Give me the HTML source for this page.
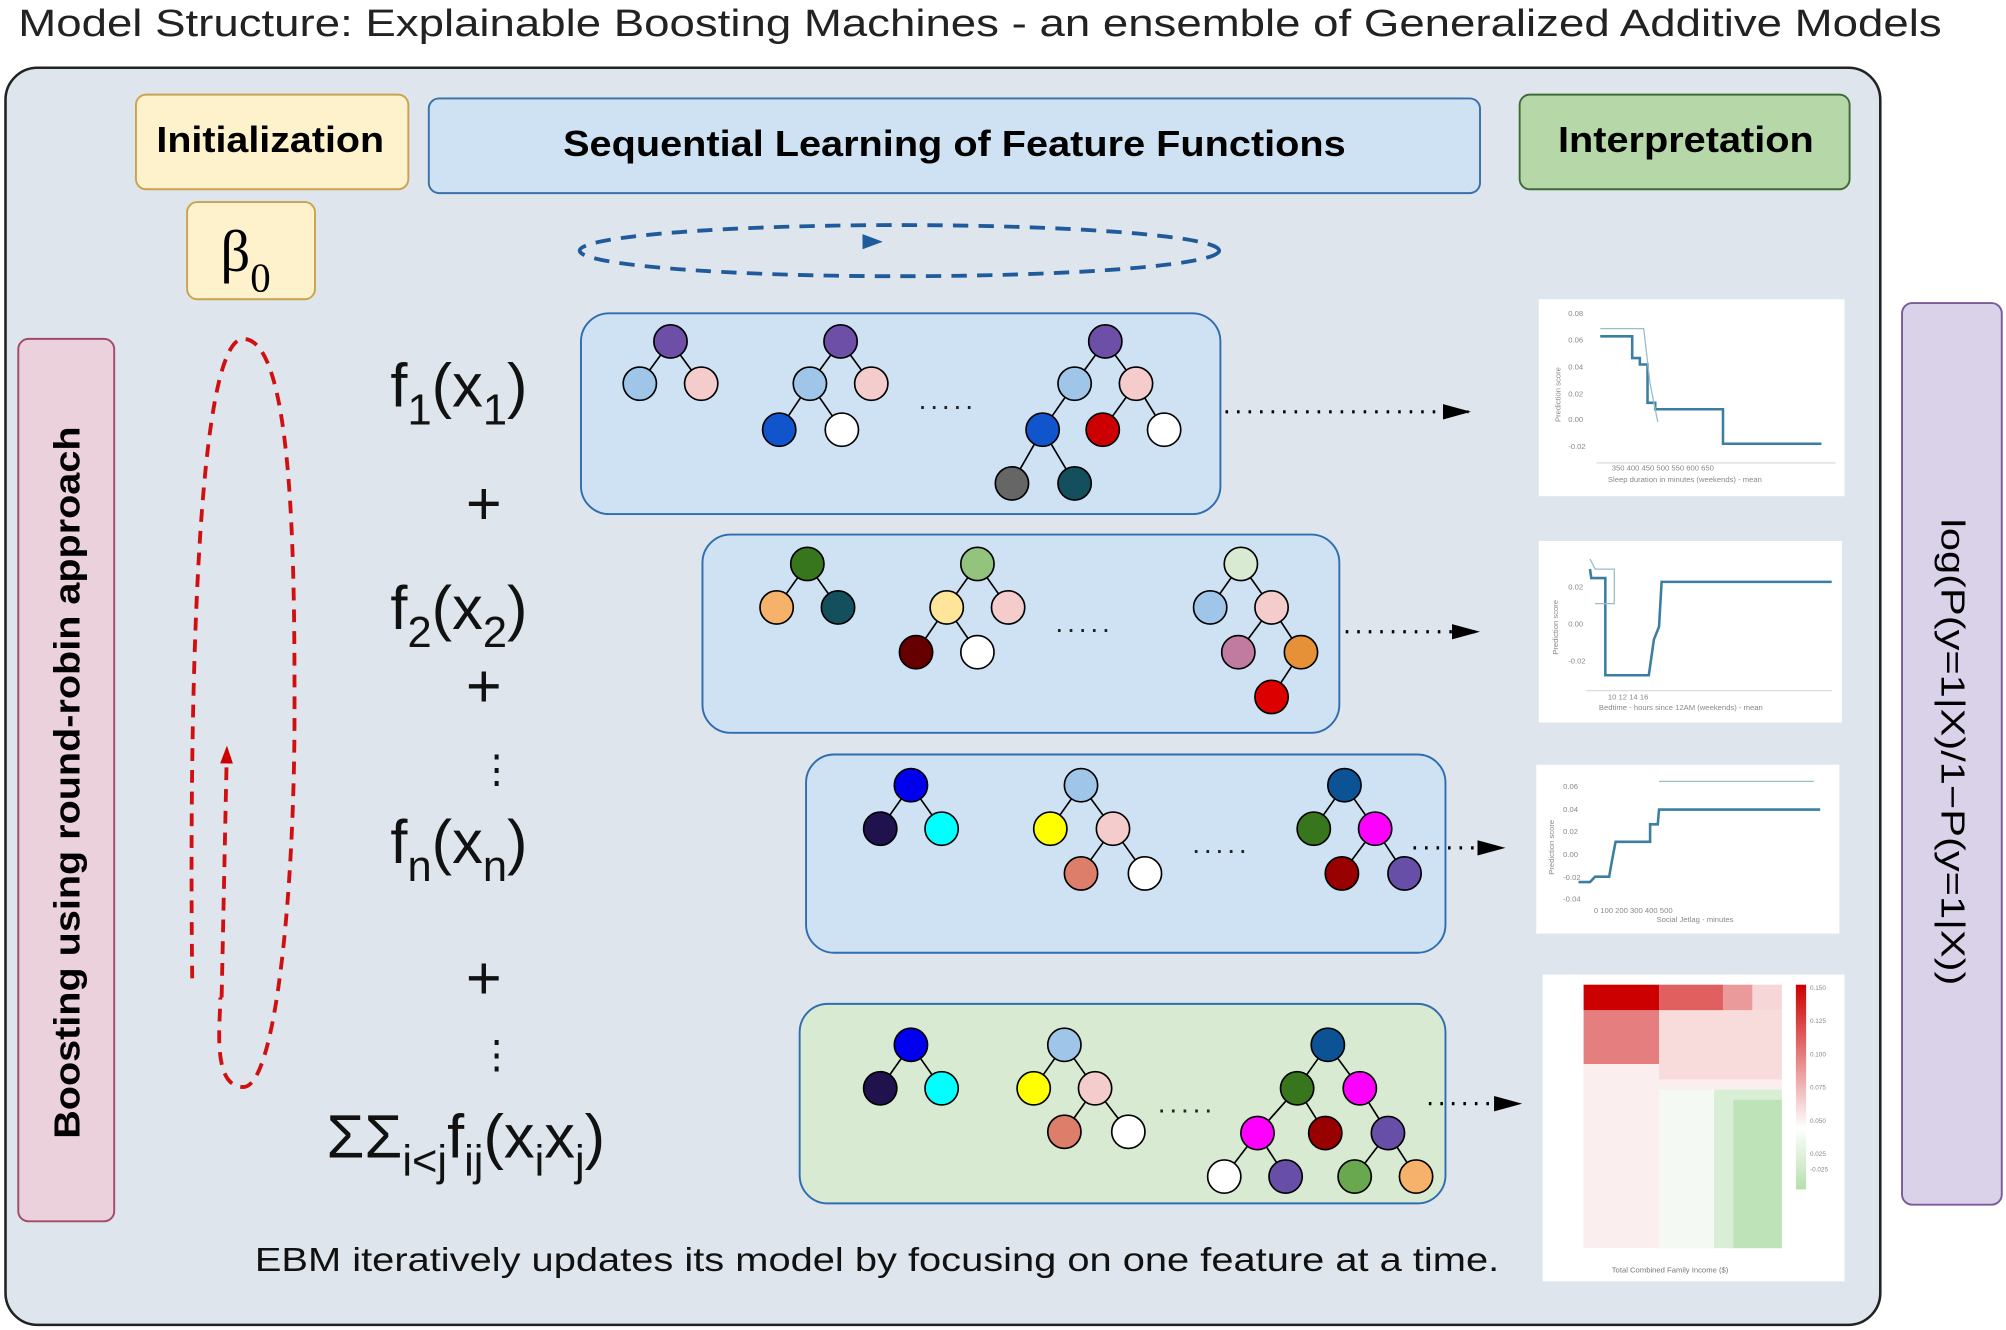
<!DOCTYPE html>
<html><head><meta charset="utf-8"><style>html,body{margin:0;padding:0;background:#fff}svg{display:block}</style></head>
<body>
<svg width="2006" height="1330" viewBox="0 0 1568 1040" xmlns="http://www.w3.org/2000/svg" font-family="Liberation Sans, Arial, sans-serif">
<defs>
<marker id="ar" markerWidth="14" markerHeight="14" refX="7" refY="7" orient="auto" markerUnits="userSpaceOnUse"><path d="M0,2 L14,7 L0,12z" fill="#c00"/></marker>
<marker id="abl" markerWidth="16" markerHeight="14" refX="8" refY="7" orient="auto" markerUnits="userSpaceOnUse"><path d="M0,1 L16,7 L0,13z" fill="#1f5b9a"/></marker>
<marker id="ak" markerWidth="22" markerHeight="14" refX="20" refY="7" orient="auto" markerUnits="userSpaceOnUse"><path d="M0,1 L22,7 L0,13z" fill="#000"/></marker>
<linearGradient id="cb" x1="0" y1="0" x2="0" y2="1"><stop offset="0" stop-color="#cc0000"/><stop offset="0.7" stop-color="#fff"/><stop offset="1" stop-color="#b6dfae"/></linearGradient>
</defs>
<rect width="1568" height="1040" fill="#fff"/>
<text x="14" y="28" font-size="30" fill="#222" textLength="1504" lengthAdjust="spacingAndGlyphs">Model Structure: Explainable Boosting Machines - an ensemble of Generalized Additive Models</text>
<rect x="4" y="53" width="1466" height="983" rx="25" fill="#dfe5ec" stroke="#222" stroke-width="2"/>

<rect x="106" y="74" width="213" height="74" rx="8" fill="#fdf2cc" stroke="#c9a24f" stroke-width="1.5"/>
<text x="122" y="119" font-size="28" font-weight="bold" textLength="178" lengthAdjust="spacingAndGlyphs">Initialization</text>
<rect x="146" y="158" width="100" height="76" rx="8" fill="#fdf2cc" stroke="#c9a24f" stroke-width="1.5"/>
<text x="172" y="212" font-size="46" font-family="Liberation Serif, serif">β<tspan font-size="32" dy="16">0</tspan></text>

<rect x="335" y="77" width="822" height="74" rx="8" fill="#cfe2f3" stroke="#3a6fa8" stroke-width="1.5"/>
<text x="440" y="122" font-size="28" font-weight="bold" textLength="612" lengthAdjust="spacingAndGlyphs">Sequential Learning of Feature Functions</text>
<rect x="1188" y="74" width="258" height="74" rx="8" fill="#b6d7a8" stroke="#3d6b35" stroke-width="1.5"/>
<text x="1218" y="119" font-size="28" font-weight="bold" textLength="200" lengthAdjust="spacingAndGlyphs">Interpretation</text>

<rect x="14" y="265" width="75" height="690" rx="8" fill="#ead1dc" stroke="#a14a6a" stroke-width="1.5"/>
<text transform="translate(62,612) rotate(-90)" font-size="28" font-weight="bold" text-anchor="middle" textLength="557" lengthAdjust="spacingAndGlyphs">Boosting using round-robin approach</text>
<rect x="1487" y="237" width="78" height="705" rx="8" fill="#d9d2e9" stroke="#7a5a9a" stroke-width="1.5"/>
<text transform="translate(1518,588) rotate(90)" font-size="26" text-anchor="middle" textLength="365" lengthAdjust="spacingAndGlyphs">log(P(y=1|X)/1−P(y=1|X))</text>

<path d="M150,765 C148,600 150,265 190,265 C230,265 230,450 230,557 C230,700 215,850 190,850 C165,850 172,800 172,780" fill="none" stroke="#d01010" stroke-width="3" stroke-dasharray="10,7"/>
<line x1="173" y1="780" x2="177" y2="590" stroke="#d01010" stroke-width="3" stroke-dasharray="10,7" marker-end="url(#ar)"/>
<ellipse cx="703" cy="196" rx="250" ry="20" fill="none" stroke="#1f5b9a" stroke-width="3" stroke-dasharray="12,8"/>
<line x1="640" y1="189" x2="682" y2="189" stroke="#1f5b9a" stroke-width="0" marker-end="url(#abl)"/>

<g font-size="48" fill="#111">
<text x="305" y="318">f<tspan font-size="34" dy="14">1</tspan><tspan dy="-14">(x</tspan><tspan font-size="34" dy="14">1</tspan><tspan dy="-14">)</tspan></text>
<text x="364" y="410">+</text>
<text x="305" y="492">f<tspan font-size="34" dy="14">2</tspan><tspan dy="-14">(x</tspan><tspan font-size="34" dy="14">2</tspan><tspan dy="-14">)</tspan></text>
<text x="364" y="553">+</text>
<text x="373" y="612" font-size="30">⋮</text>
<text x="305" y="675">f<tspan font-size="34" dy="14">n</tspan><tspan dy="-14">(x</tspan><tspan font-size="34" dy="14">n</tspan><tspan dy="-14">)</tspan></text>
<text x="364" y="781">+</text>
<text x="373" y="835" font-size="30">⋮</text>
<text x="255" y="905">ΣΣ<tspan font-size="34" dy="14">i&lt;j</tspan><tspan dy="-14">f</tspan><tspan font-size="34" dy="14">ij</tspan><tspan dy="-14">(x</tspan><tspan font-size="34" dy="14">i</tspan><tspan dy="-14">x</tspan><tspan font-size="34" dy="14">j</tspan><tspan dy="-14">)</tspan></text>
</g>

<rect x="454" y="245" width="500" height="157" rx="22" fill="#cfe2f3" stroke="#2f6db0" stroke-width="1.5"/>
<rect x="549" y="418" width="498" height="155" rx="22" fill="#cfe2f3" stroke="#2f6db0" stroke-width="1.5"/>
<rect x="630" y="590" width="500" height="155" rx="22" fill="#cfe2f3" stroke="#2f6db0" stroke-width="1.5"/>
<rect x="625" y="785" width="505" height="156" rx="22" fill="#d9ead3" stroke="#2f6db0" stroke-width="1.5"/>

<g stroke="#000" stroke-width="1.3">
<path d="M524,267L500,300M524,267L548,300M657,267L633,300M657,267L681,300M633,300L609,336M633,300L658,336M864,267L840,300M864,267L888,300M840,300L815,336M888,300L862,336M888,300L910,336M815,336L791,378M815,336L840,378"/>
<path d="M631,441L607,475M631,441L655,475M764,441L740,475M764,441L788,475M740,475L716,510M740,475L764,510M970,441L946,475M970,441L994,475M994,475L968,510M994,475L1017,510M1017,510L994,545"/>
<path d="M712,614L688,648M712,614L736,648M845,614L821,648M845,614L870,648M870,648L845,683M870,648L895,683M1051,614L1027,648M1051,614L1075,648M1075,648L1049,683M1075,648L1098,683"/>
<path d="M712,817L688,851M712,817L736,851M832,817L808,851M832,817L856,851M856,851L832,885M856,851L882,885M1038,817L1014,851M1038,817L1063,851M1014,851L983,886M1014,851L1036,886M1063,851L1085,886M983,886L957,920M983,886L1005,920M1085,886L1059,920M1085,886L1107,920"/>
</g>
<g stroke="#000" stroke-width="1.3">
<circle cx="524" cy="267" r="13" fill="#6d4fa8"/><circle cx="500" cy="300" r="13" fill="#9fc5e8"/><circle cx="548" cy="300" r="13" fill="#f4cccc"/>
<circle cx="657" cy="267" r="13" fill="#6d4fa8"/><circle cx="633" cy="300" r="13" fill="#9fc5e8"/><circle cx="681" cy="300" r="13" fill="#f4cccc"/><circle cx="609" cy="336" r="13" fill="#1155cc"/><circle cx="658" cy="336" r="13" fill="#fff"/>
<circle cx="864" cy="267" r="13" fill="#6d4fa8"/><circle cx="840" cy="300" r="13" fill="#9fc5e8"/><circle cx="888" cy="300" r="13" fill="#f4cccc"/><circle cx="815" cy="336" r="13" fill="#1155cc"/><circle cx="862" cy="336" r="13" fill="#cc0000"/><circle cx="910" cy="336" r="13" fill="#fff"/><circle cx="791" cy="378" r="13" fill="#666"/><circle cx="840" cy="378" r="13" fill="#134f5c"/>
<circle cx="631" cy="441" r="13" fill="#38761d"/><circle cx="607" cy="475" r="13" fill="#f6b26b"/><circle cx="655" cy="475" r="13" fill="#134f5c"/>
<circle cx="764" cy="441" r="13" fill="#93c47d"/><circle cx="740" cy="475" r="13" fill="#ffe599"/><circle cx="788" cy="475" r="13" fill="#f4cccc"/><circle cx="716" cy="510" r="13" fill="#660000"/><circle cx="764" cy="510" r="13" fill="#fff"/>
<circle cx="970" cy="441" r="13" fill="#d9ead3"/><circle cx="946" cy="475" r="13" fill="#9fc5e8"/><circle cx="994" cy="475" r="13" fill="#f4cccc"/><circle cx="968" cy="510" r="13" fill="#c27ba0"/><circle cx="1017" cy="510" r="13" fill="#e69138"/><circle cx="994" cy="545" r="13" fill="#dd0000"/>
<circle cx="712" cy="614" r="13" fill="#0000ee"/><circle cx="688" cy="648" r="13" fill="#20124d"/><circle cx="736" cy="648" r="13" fill="#00ffff"/>
<circle cx="845" cy="614" r="13" fill="#9fc5e8"/><circle cx="821" cy="648" r="13" fill="#ffff00"/><circle cx="870" cy="648" r="13" fill="#f4cccc"/><circle cx="845" cy="683" r="13" fill="#dd7e6b"/><circle cx="895" cy="683" r="13" fill="#fff"/>
<circle cx="1051" cy="614" r="13" fill="#0b5394"/><circle cx="1027" cy="648" r="13" fill="#38761d"/><circle cx="1075" cy="648" r="13" fill="#ff00ff"/><circle cx="1049" cy="683" r="13" fill="#990000"/><circle cx="1098" cy="683" r="13" fill="#674ea7"/>
<circle cx="712" cy="817" r="13" fill="#0000ee"/><circle cx="688" cy="851" r="13" fill="#20124d"/><circle cx="736" cy="851" r="13" fill="#00ffff"/>
<circle cx="832" cy="817" r="13" fill="#9fc5e8"/><circle cx="808" cy="851" r="13" fill="#ffff00"/><circle cx="856" cy="851" r="13" fill="#f4cccc"/><circle cx="832" cy="885" r="13" fill="#dd7e6b"/><circle cx="882" cy="885" r="13" fill="#fff"/>
<circle cx="1038" cy="817" r="13" fill="#0b5394"/><circle cx="1014" cy="851" r="13" fill="#38761d"/><circle cx="1063" cy="851" r="13" fill="#ff00ff"/><circle cx="983" cy="886" r="13" fill="#ff00ff"/><circle cx="1036" cy="886" r="13" fill="#990000"/><circle cx="1085" cy="886" r="13" fill="#674ea7"/><circle cx="957" cy="920" r="13" fill="#fff"/><circle cx="1005" cy="920" r="13" fill="#674ea7"/><circle cx="1059" cy="920" r="13" fill="#6aa84f"/><circle cx="1107" cy="920" r="13" fill="#f6b26b"/>
</g>
<g font-size="22" fill="#222" letter-spacing="3"><text x="718" y="320">.....</text><text x="825" y="494">.....</text><text x="932" y="667">.....</text><text x="905" y="870">.....</text></g>

<g stroke="#000" stroke-width="2.5" stroke-dasharray="2,7" fill="none">
<line x1="958" y1="322" x2="1148" y2="322" marker-end="url(#ak)"/>
<line x1="1052" y1="494" x2="1155" y2="494" marker-end="url(#ak)"/>
<line x1="1105" y1="663" x2="1175" y2="663" marker-end="url(#ak)"/>
<line x1="1117" y1="863" x2="1188" y2="863" marker-end="url(#ak)"/>
</g>

<!-- plot 1 -->
<rect x="1203" y="234" width="239" height="154" fill="#fff"/>
<g font-size="6" fill="#888"><text x="1220" y="330" transform="rotate(-90 1220 330)">Prediction score</text>
<text x="1226" y="247">0.08</text><text x="1226" y="268">0.06</text><text x="1226" y="289">0.04</text><text x="1226" y="310">0.02</text><text x="1226" y="330">0.00</text><text x="1226" y="351">-0.02</text>
<text x="1260" y="368">350 400 450 500 550 600 650</text>
<text x="1257" y="377">Sleep duration in minutes (weekends) - mean</text></g>
<line x1="1248" y1="362" x2="1435" y2="362" stroke="#ddd"/>
<polyline points="1251,263 1276,263 1276,280 1282,280 1282,285 1288,285 1288,315 1294,315 1294,320 1347,320 1347,347 1424,347" fill="none" stroke="#3a7ea1" stroke-width="2"/>
<polyline points="1251,257 1285,257 1290,300 1296,330" fill="none" stroke="#9bbcc9" stroke-width="1"/>
<!-- plot 2 -->
<rect x="1203" y="423" width="237" height="142" fill="#fff"/>
<g font-size="6" fill="#888"><text x="1218" y="512" transform="rotate(-90 1218 512)">Prediction score</text>
<text x="1226" y="461">0.02</text><text x="1226" y="490">0.00</text><text x="1226" y="519">-0.02</text>
<text x="1257" y="547">10 12 14 16</text><text x="1250" y="555">Bedtime - hours since 12AM (weekends) - mean</text></g>
<line x1="1240" y1="540" x2="1432" y2="540" stroke="#ddd"/>
<polyline points="1243,445 1244,452 1255,452 1255,528 1289,528 1293,500 1297,490 1299,455 1432,455" fill="none" stroke="#3a7ea1" stroke-width="2"/>
<polyline points="1243,437 1247,445 1262,445 1262,472 1247,472" fill="none" stroke="#9bbcc9" stroke-width="1"/>
<!-- plot 3 -->
<rect x="1201" y="598" width="237" height="132" fill="#fff"/>
<g font-size="6" fill="#888"><text x="1215" y="684" transform="rotate(-90 1215 684)">Prediction score</text>
<text x="1222" y="617">0.06</text><text x="1222" y="635">0.04</text><text x="1222" y="652">0.02</text><text x="1222" y="670">0.00</text><text x="1222" y="688">-0.02</text><text x="1222" y="705">-0.04</text>
<text x="1246" y="714">0  100  200  300  400  500</text><text x="1295" y="721">Social Jetlag - minutes</text></g>
<polyline points="1234,720 1243,720 1247,716 1258,716 1260,705 1263,690 1290,690 1290,677 1296,677 1297,666 1423,666" fill="none" stroke="#3a7ea1" stroke-width="2" transform="translate(0,-40) scale(1,1.05) translate(0,-25)"/>
<polyline points="1297,659 1418,659 M1297,676 1418,676" fill="none" stroke="#9bbcc9" stroke-width="1" transform="translate(0,-48)"/>
<!-- heatmap -->
<rect x="1206" y="762" width="236" height="240" fill="#fff"/>
<rect x="1238" y="770" width="155" height="206" fill="#fbeeee"/>
<rect x="1238" y="770" width="59" height="20" fill="#cc0000"/>
<rect x="1297" y="770" width="50" height="20" fill="#e06060"/>
<rect x="1347" y="770" width="23" height="20" fill="#ea9a9a"/>
<rect x="1370" y="770" width="23" height="20" fill="#f6d6d6"/>
<rect x="1238" y="790" width="59" height="42" fill="#e57f7f"/>
<rect x="1297" y="790" width="96" height="54" fill="#f8dcdc"/>
<rect x="1297" y="852" width="96" height="124" fill="#f4faf3"/>
<rect x="1340" y="852" width="53" height="124" fill="#d9efd5"/>
<rect x="1355" y="860" width="38" height="116" fill="#bfe3b8"/>
<rect x="1404" y="770" width="8" height="160" fill="url(#cb)"/>
<g font-size="5" fill="#888"><text x="1415" y="774">0.150</text><text x="1415" y="800">0.125</text><text x="1415" y="826">0.100</text><text x="1415" y="852">0.075</text><text x="1415" y="878">0.050</text><text x="1415" y="904">0.025</text><text x="1415" y="916">-0.025</text></g>
<text x="1260" y="995" font-size="6" fill="#777">Total Combined Family Income ($)</text>

<text x="199" y="994" font-size="26" fill="#111" textLength="973" lengthAdjust="spacingAndGlyphs">EBM iteratively updates its model by focusing on one feature at a time.</text>
</svg>
</body></html>
